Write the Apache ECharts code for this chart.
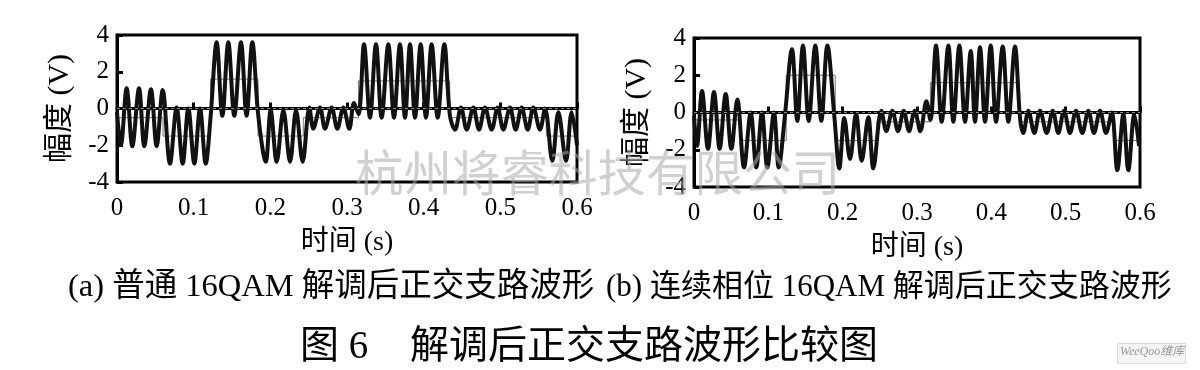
<!DOCTYPE html>
<html>
<head>
<meta charset="utf-8">
<script src="https://cdn.jsdelivr.net/npm/echarts@6/dist/echarts.min.js"></script>
<style>
html,body{margin:0;padding:0;background:#fff;}
#c{width:1200px;height:370px;}
</style>
</head>
<body>
<div id="c"></div>
<script>
// ---- data ----
const xTickLabels = ['0', '0.1', '0.2', '0.3', '0.4', '0.5', '0.6'];
const yTickLabels = ['-4', '-2', '0', '2', '4'];

// (a) ordinary 16QAM: time (s) and amplitude (V) at peaks / troughs
const tA = [0.000,0.005,0.0126,0.020,0.0287,0.0356,0.0443,0.0517,0.0596,
  0.0691,0.0778,0.0857,0.093,0.1009,0.1083,0.1157,0.122,
  0.130,0.1374,0.1452,0.153,0.1617,0.169,0.1765,0.1843,
  0.194,0.2004,0.2083,0.217,0.2257,0.2335,0.2422,
  0.2509,0.256,0.2648,0.2713,0.280,0.2874,0.2952,0.303,0.3091,0.315,
  0.3222,0.330,0.3378,0.3452,0.3539,0.3613,0.3691,0.3757,0.3822,0.3887,0.3961,0.403,0.4104,0.4183,0.4269,0.4343,
  0.4409,0.4487,0.4561,0.4648,0.4722,0.480,0.4887,0.4965,0.5039,0.5126,0.520,0.5278,0.5357,0.543,0.5517,0.5583,
  0.5678,0.5757,0.5857,0.593,0.600];
const vA = [-0.2,-2.0,1.1,-2.05,1.1,-2.05,1.05,-2.05,1.0,
  -3.0,0.05,-3.0,0.0,-3.0,0.0,-3.0,-0.5,
  3.6,-0.4,3.6,-0.4,3.6,-0.4,3.6,-0.4,
  -2.9,-0.1,-2.9,-0.1,-2.9,-0.1,-2.9,
  0.05,-1.1,0.05,-1.1,0.05,-1.1,0.05,-1.1,0.3,-0.3,
  3.5,-0.5,3.5,-0.5,3.5,-0.5,3.5,-0.5,3.5,-0.5,3.5,-0.5,3.5,-0.5,3.5,-0.4,
  -1.15,0.05,-1.15,0.05,-1.15,0.05,-1.15,0.05,-1.15,0.05,-1.15,0.05,-1.15,0.05,-1.15,0.0,
  -2.85,-0.2,-2.85,-0.2,-2.0];

// (b) continuous-phase 16QAM
const tB = [0.000,0.004,0.0108,0.0188,0.0269,0.0345,0.0426,0.0502,0.0583,
  0.0673,0.0763,0.0838,0.0915,0.0986,0.1076,0.114,0.122,
  0.1318,0.139,0.1466,0.1543,0.1632,0.1713,0.1794,0.189,
  0.1955,0.2022,0.2099,0.218,0.2256,0.2345,0.2412,
  0.252,0.2587,0.2668,0.2745,0.2821,0.2893,0.2969,0.3045,0.3126,0.318,
  0.3256,0.3332,0.3422,0.3489,0.357,0.3646,0.3723,0.378,0.3848,0.3915,0.3992,0.4063,0.4153,0.4229,0.4318,0.4386,
  0.443,0.4498,0.4579,0.4655,0.4745,0.4826,0.4901,0.4978,0.5058,0.5139,0.5224,0.5305,0.5381,0.5462,0.5543,0.5619,
  0.5695,0.5776,0.5843,0.5924,0.5987];
const vB = [-0.2,-1.8,1.15,-1.95,1.1,-1.95,1.0,-1.95,0.7,
  -2.95,0.0,-2.95,0.0,-2.95,0.0,-2.95,-0.3,
  3.4,-0.45,3.6,-0.45,3.6,-0.45,3.6,-0.3,
  -3.0,-0.3,-2.5,-0.05,-2.6,-0.25,-3.0,
  0.1,-1.0,0.1,-1.0,0.1,-1.0,0.1,-1.0,0.6,-0.4,
  3.6,-0.5,3.6,-0.5,3.6,-0.5,3.3,-0.5,3.5,-0.5,3.6,-0.5,3.55,-0.5,3.55,-0.3,
  -1.1,0.1,-1.1,0.1,-1.1,0.1,-1.1,0.1,-1.1,0.1,-1.1,0.1,-1.1,0.1,-1.1,0.0,
  -3.1,-0.1,-3.1,-0.1,-1.8];

// symbol-level (baseband) thin line: segment boundaries and levels
const segA = [0, 0.06, 0.122, 0.184, 0.243, 0.315, 0.434, 0.56, 0.6];
const lvlA = [-0.5, -1.5, 1.6, -1.5, -0.5, 1.5, -0.5, -1.5];
const segB = [0, 0.062, 0.124, 0.19, 0.246, 0.318, 0.438, 0.565, 0.6];
const lvlB = [-0.4, -1.5, 2.0, -1.5, -0.5, 1.6, -0.5, -1.5];

const xName = '时间 (s)';
const yName = '幅度 (V)';
const capA = '(a) 普通 16QAM 解调后正交支路波形';
const capB = '(b) 连续相位 16QAM 解调后正交支路波形';
const figNo = '图 6';
const figTitle = '解调后正交支路波形比较图';
const watermark = '杭州将睿科技有限公司';
const logo = 'WeeQoo维库';

// ---- build ----
const serif = '"Liberation Serif","Noto Sans CJK SC",serif';
function pts(t, v){ return t.map((x,i)=>[x, v[i]]); }
function steps(seg, lvl){ const out=[]; for(let i=0;i<lvl.length;i++){ out.push([seg[i],lvl[i]]); out.push([seg[i+1],lvl[i]]); } return out; }

function xAx(gi){
  return {type:'value', gridIndex:gi, min:0, max:0.6, interval:0.1,
    name:xName, nameLocation:'middle', nameGap:47,
    nameTextStyle:{fontFamily:serif, fontSize:28, color:'#000'},
    axisLine:{show:true, lineStyle:{color:'#000', width:3}},
    axisTick:{show:true, inside:true, length:6, lineStyle:{color:'#000', width:3}},
    axisLabel:{fontFamily:serif, fontSize:25, color:'#000', margin:14,
      formatter:v=>xTickLabels[Math.round(v/0.1)]},
    splitLine:{show:false}};
}
function yAx(gi){
  return {type:'value', gridIndex:gi, min:-4, max:4, interval:2,
    name:yName, nameLocation:'middle', nameGap:42, nameRotate:90,
    nameTextStyle:{fontFamily:serif, fontSize:30, color:'#000'},
    axisLine:{show:true, lineStyle:{color:'#000', width:3}},
    axisTick:{show:true, inside:true, length:6, lineStyle:{color:'#000', width:3}},
    axisLabel:{fontFamily:serif, fontSize:25, color:'#000', margin:8,
      formatter:v=>yTickLabels[Math.round((v+4)/2)]},
    splitLine:{show:false}};
}
function zeroLine(){
  return {silent:true, symbol:'none', label:{show:false},
    lineStyle:{type:[3,3], color:'#888', width:1}, data:[{yAxis:0}]};
}

const chart = echarts.init(document.getElementById('c'), null, {renderer:'canvas'});
chart.setOption({
  animation:false,
  backgroundColor:'#fff',
  grid:[
    {left:117, top:35, width:460, height:147, show:true, borderColor:'#000', borderWidth:3, backgroundColor:'transparent'},
    {left:694, top:38, width:446, height:149, show:true, borderColor:'#000', borderWidth:3, backgroundColor:'transparent'}
  ],
  xAxis:[xAx(0), xAx(1)],
  yAxis:[yAx(0), yAx(1)],
  series:[
    {type:'line', xAxisIndex:0, yAxisIndex:0, data:steps(segA,lvlA), symbol:'none',
      lineStyle:{color:'#777', width:1}, markLine:zeroLine(), z:1},
    {type:'line', xAxisIndex:0, yAxisIndex:0, data:pts(tA,vA), symbol:'none', smooth:0.35,
      lineStyle:{color:'#111', width:4}, z:2},
    {type:'line', xAxisIndex:1, yAxisIndex:1, data:steps(segB,lvlB), symbol:'none',
      lineStyle:{color:'#777', width:1}, markLine:zeroLine(), z:1},
    {type:'line', xAxisIndex:1, yAxisIndex:1, data:pts(tB,vB), symbol:'none', smooth:0.35,
      lineStyle:{color:'#111', width:4}, z:2}
  ],
  graphic:[
    {type:'text', left:68, top:271, style:{text:capA, font:'32.5px '+serif, fill:'#000'}},
    {type:'text', left:606, top:272, style:{text:capB, font:'31px '+serif, fill:'#000'}},
    {type:'text', left:300, top:328, style:{text:figNo, font:'39px '+serif, fill:'#000'}},
    {type:'text', left:410, top:328, style:{text:figTitle, font:'39px '+serif, fill:'#000'}},
    {type:'text', left:355, top:154, z:100, style:{text:watermark, font:'48.5px '+serif, fill:'rgba(170,170,170,0.55)'}},
    {type:'rect', left:1117, top:343, shape:{width:68, height:20}, style:{fill:'#f4f4f4', stroke:'#ddd'}},
    {type:'text', left:1120, top:346, style:{text:logo, font:'italic 12px '+serif, fill:'#999'}}
  ]
});
</script>
</body>
</html>
